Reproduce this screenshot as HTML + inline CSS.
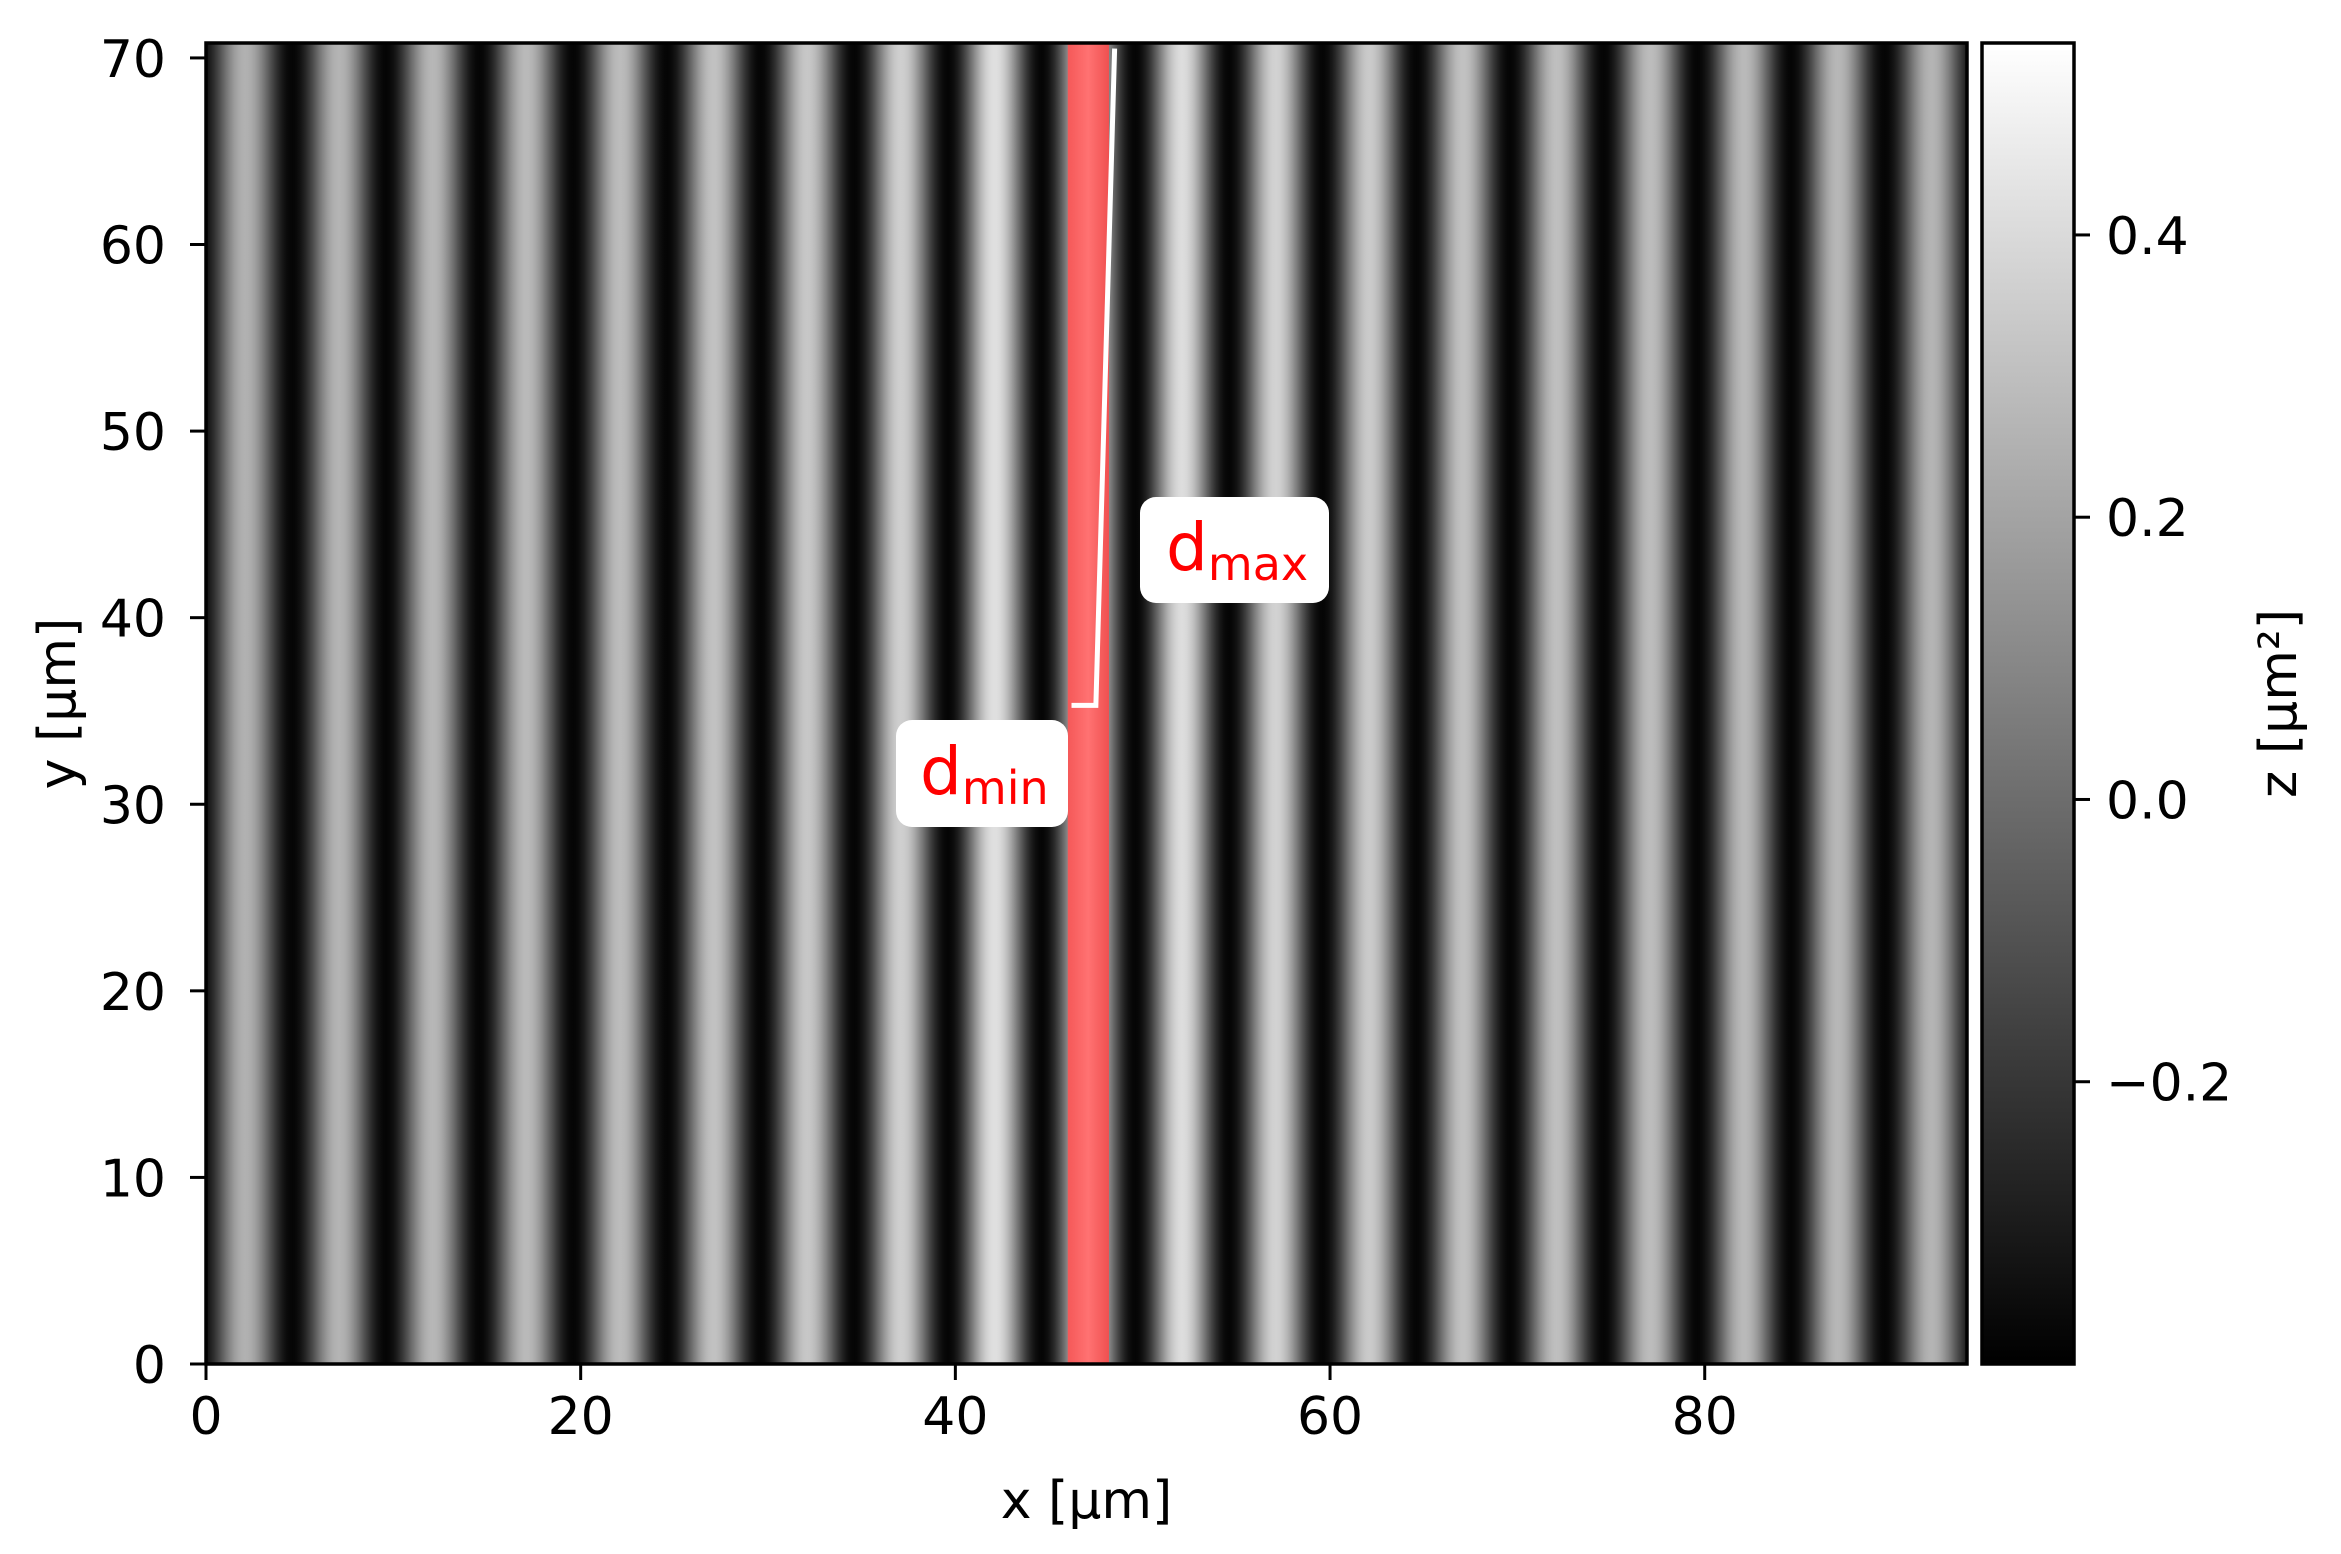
<!DOCTYPE html>
<html><head><meta charset="utf-8"><style>
html,body{margin:0;padding:0;background:#fff;}
svg{display:block;}
text{font-family:"DejaVu Sans","Liberation Sans",sans-serif;}
</style></head><body>
<svg id="chart" width="2341" height="1554" viewBox="0 0 2341 1554" xmlns="http://www.w3.org/2000/svg">
<defs>
<linearGradient id="stripes" x1="0" x2="1" y1="0" y2="0"></linearGradient>
<linearGradient id="cbar" x1="0" x2="0" y1="1" y2="0"><stop offset="0" stop-color="#000"/><stop offset="1" stop-color="#fff"/></linearGradient>
<linearGradient id="redgrad" x1="0" x2="1" y1="0" y2="0"><stop offset="0" stop-color="#f55858"/><stop offset="0.5" stop-color="#ff7272"/><stop offset="1" stop-color="#f05050"/></linearGradient>
</defs>
<g id="plot"></g>
</svg>
<script>
// data
const peakX = [2.1,7.1,12.1,17.1,22.1,27.1,32.1,37.1,42.1,47.1,52.1,57.1,62.1,67.1,72.1,77.1,82.1,87.1,92.1];
const peakZ = [0.25,0.26,0.27,0.28,0.29,0.31,0.33,0.36,0.42,0.43,0.41,0.37,0.34,0.31,0.30,0.29,0.28,0.27,0.26];
const troughZ = -0.38;
const period = 5.0;
const xTicks = [0,20,40,60,80];
const yTicks = [0,10,20,30,40,50,60,70];
const zTicks = [0.4,0.2,0.0,-0.2];
const zTickLabels = ["0.4","0.2","0.0","\u22120.2"];
const redBand = [46.0, 48.2];
const dmaxLine = [[48.5,70.5],[47.5,35.3],[46.2,35.3]];

const X0=206, X1=1967, Y0=1364, Y1=43;
const xMin=0, xMax=94.0, yMin=0, yMax=70.8;
const zMin=-0.40, zMax=0.536;
const sx=v=>X0+(v-xMin)/(xMax-xMin)*(X1-X0);
const sy=v=>Y0-(v-yMin)/(yMax-yMin)*(Y0-Y1);
const CB0=1982, CB1=2074;
const sz=v=>Y0-(v-zMin)/(zMax-zMin)*(Y0-Y1);
const NS='http://www.w3.org/2000/svg';
const g=document.getElementById('plot');
function mk(t,a,p){const e=document.createElementNS(NS,t);for(const k in a)e.setAttribute(k,a[k]);(p||g).appendChild(e);return e;}
function gray(z){let t=(z-zMin)/(zMax-zMin);t=Math.max(0,Math.min(1,t));const c=Math.round(t*255);return `rgb(${c},${c},${c})`;}

const grad=document.getElementById('stripes');
const N=940;
for(let i=0;i<=N;i++){
  const x=xMin+(xMax-xMin)*i/N;
  let best=0,bd=1e9;
  peakX.forEach((p,j)=>{const d=Math.abs(x-p);if(d<bd){bd=d;best=j;}});
  const ph=Math.cos(2*Math.PI*(x-peakX[best])/period);
  const w=(1+ph)/2;
  const z=troughZ+(peakZ[best]-troughZ)*w;
  const s=document.createElementNS(NS,'stop');
  s.setAttribute('offset',(i/N).toFixed(4));
  s.setAttribute('stop-color',gray(z));
  grad.appendChild(s);
}
const img=mk('rect',{x:X0,y:Y1,width:X1-X0,height:Y0-Y1,fill:'url(#stripes)'});



const rb=mk('rect',{x:sx(redBand[0]),y:Y1,width:sx(redBand[1])-sx(redBand[0]),height:Y0-Y1,fill:'url(#redgrad)'});



const pl=mk('polyline',{points:dmaxLine.map(p=>sx(p[0])+','+sy(p[1])).join(' '),fill:'none',stroke:'#fff','stroke-width':5});



const fr=mk('rect',{x:X0,y:Y1,width:X1-X0,height:Y0-Y1,fill:'none',stroke:'#000','stroke-width':3.5});



xTicks.forEach(v=>{
  const t=mk('line',{x1:sx(v),x2:sx(v),y1:Y0,y2:Y0+16,stroke:'#000','stroke-width':3});
  
  
  const l=mk('text',{x:sx(v),y:Y0+70,'font-size':52,'text-anchor':'middle',fill:'#000'});
  l.textContent=v;
  
  
});
yTicks.forEach(v=>{
  const t=mk('line',{x1:X0-16,x2:X0,y1:sy(v),y2:sy(v),stroke:'#000','stroke-width':3});
  
  
  const l=mk('text',{x:X0-40,y:sy(v)+19,'font-size':52,'text-anchor':'end',fill:'#000'});
  l.textContent=v;
  
  
});
const xl=mk('text',{x:(X0+X1)/2,y:1518,'font-size':52,'text-anchor':'middle',fill:'#000'});
xl.textContent='x [\u00b5m]';


const yl=mk('text',{x:0,y:0,'font-size':52,'text-anchor':'middle',fill:'#000',transform:`translate(75,${(Y0+Y1)/2}) rotate(-90)`});
yl.textContent='y [\u00b5m]';



const cb=mk('rect',{x:CB0,y:Y1,width:CB1-CB0,height:Y0-Y1,fill:'url(#cbar)',stroke:'#000','stroke-width':3.5});


zTicks.forEach((v,i)=>{
  const t=mk('line',{x1:CB1,x2:CB1+16,y1:sz(v),y2:sz(v),stroke:'#000','stroke-width':3});
  
  
  const l=mk('text',{x:CB1+32,y:sz(v)+19,'font-size':52,fill:'#000'});
  l.textContent=zTickLabels[i];
  
  
});
const zl=mk('text',{x:0,y:0,'font-size':52,'text-anchor':'middle',fill:'#000',transform:`translate(2296,${(Y0+Y1)/2}) rotate(-90)`});
zl.textContent='z [\u00b5m\u00b2]';



function label(x,y,w,h,tx,ty,sub,name){
  const grp=mk('g',{});
  
  
  mk('rect',{x:x,y:y,width:w,height:h,rx:16,ry:16,fill:'#fff'},grp);
  const t=mk('text',{x:tx,y:ty,'font-size':66,fill:'#ff0000'},grp);
  t.textContent='d';
  const s=document.createElementNS(NS,'tspan');
  s.setAttribute('font-size','46');s.setAttribute('dy','10');
  s.textContent=sub;t.appendChild(s);
}
label(1140,497,189,106,1166,570,'max','dmax-label');
label(896,720,172,107,920,794,'min','dmin-label');
</script>
</body></html>
